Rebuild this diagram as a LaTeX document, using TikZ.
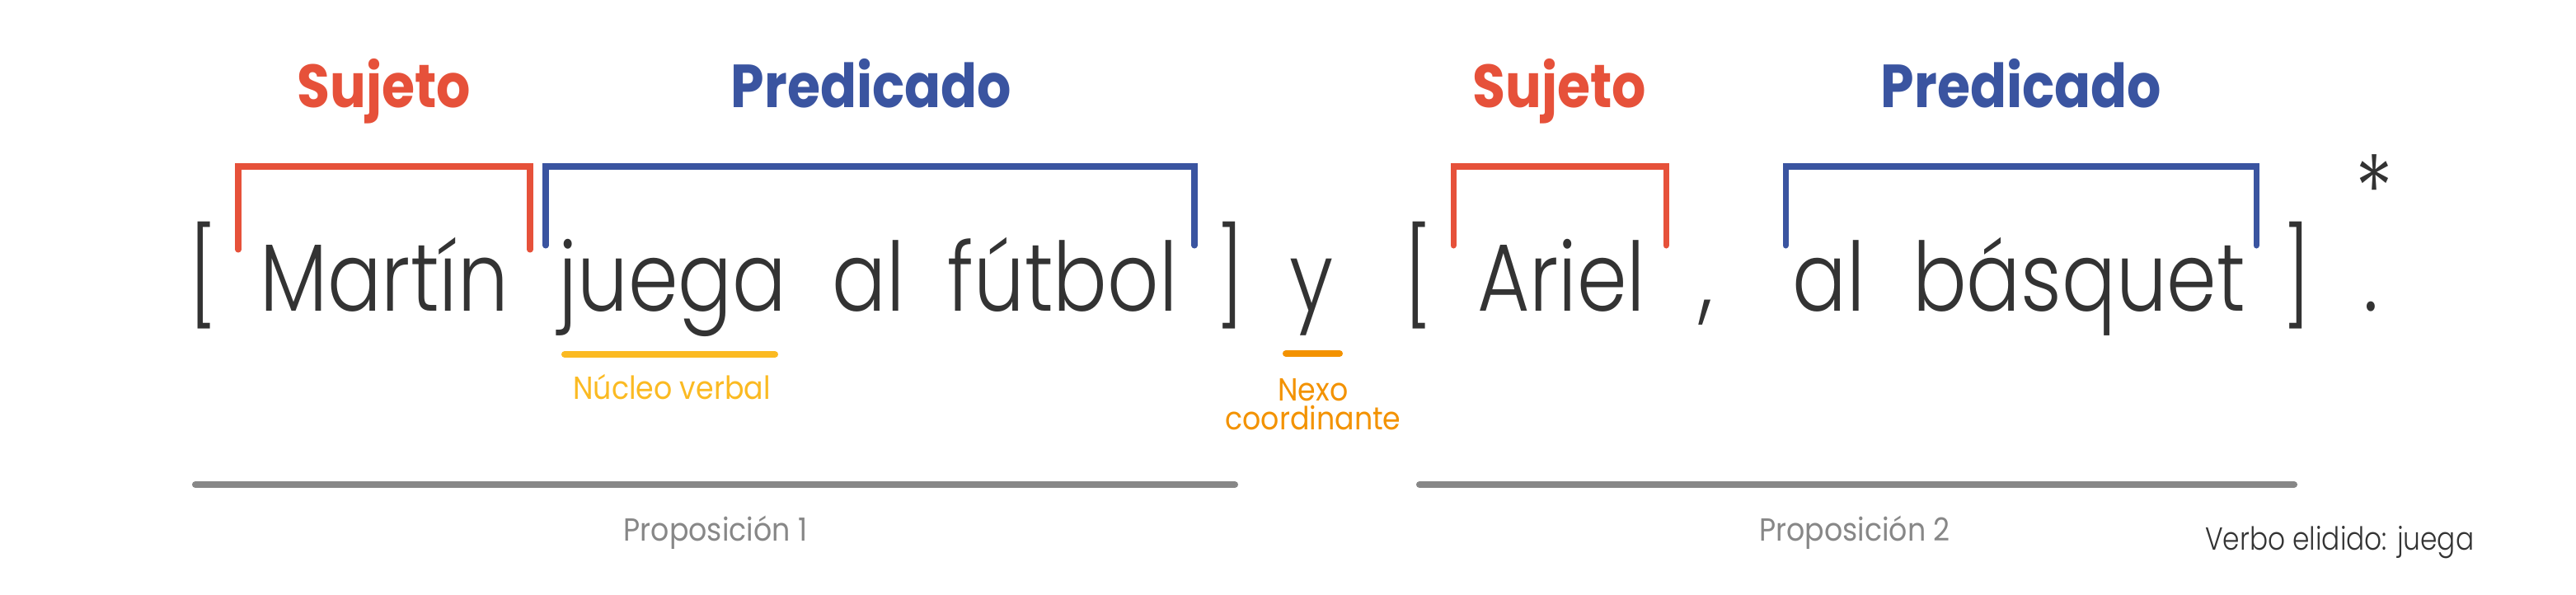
\documentclass[tikz,border=0pt]{standalone}
\usepackage{fontspec}
\setmainfont{Poppins}
\newfontfamily\wordfont{Poppins Light}[FakeStretch=0.84]
\newfontfamily\headfont{Poppins}[FakeStretch=0.88]
\newfontfamily\notefont{Poppins}[FakeStretch=0.9]
\newfontfamily\elidfont{Poppins Light}[FakeStretch=0.85]
\definecolor{ink}{HTML}{333333}
\definecolor{sujred}{HTML}{E6513A}
\definecolor{predblue}{HTML}{3A54A0}
\definecolor{nucyellow}{HTML}{FBBA22}
\definecolor{nexorange}{HTML}{F39200}
\definecolor{propgray}{HTML}{878787}
\begin{document}
\begin{tikzpicture}
[nodes={inner sep=0pt},
 word/.style={anchor=base, text=ink, font=\wordfont\fontsize{33}{33}\selectfont},
 head/.style={anchor=base, font=\headfont\bfseries\fontsize{21}{21}\selectfont},
 note/.style={anchor=base, font=\notefont\fontsize{11}{11}\selectfont},
 suj/.style={draw=sujred, line width=2pt, line cap=round},
 pred/.style={draw=predblue, line width=2pt, line cap=round},
 bar/.style={line width=2.3pt, line cap=round}]
\useasboundingbox (0,0) rectangle (31.25,7.22);

\node (lbA) at (2.46,3.44) [word] {[};
\node (Martin) at (4.66,3.44) [word] {Martín};
\node (juega) at (8.16,3.44) [word] {juega};
\node (alA) at (10.54,3.44) [word] {al};
\node (futbol) at (12.89,3.44) [word] {fútbol};
\node (rbA) at (14.92,3.44) [word] {]};
\node (y) at (15.91,3.44) [word] {y};
\node (lbB) at (17.20,3.44) [word] {[};
\node (Ariel) at (18.94,3.44) [word] {Ariel};
\node (comma) at (20.70,3.44) [word] {,};
\node (alB) at (22.19,3.44) [word] {al};
\node (basquet) at (25.22,3.44) [word] {básquet};
\node (rbB) at (27.86,3.44) [word] {]};
\node (dot) at (28.76,3.44) [word] {.};
\node (star) at (28.80,4.92) [word, anchor=center] {*};

\draw [suj] (2.89,4.19) |- (6.43,5.2) -- (6.43,4.19);
\draw [pred] (6.62,4.24) |- (14.49,5.2) -- (14.49,4.24);
\draw [suj] (17.63,4.24) |- (20.21,5.2) -- (20.21,4.24);
\draw [pred] (21.66,4.24) |- (27.37,5.2) -- (27.37,4.24);
\node (SujA) at (4.66,5.91) [head, text=sujred] {Sujeto};
\node (PredA) at (10.57,5.91) [head, text=predblue] {Predicado};
\node (SujB) at (18.92,5.91) [head, text=sujred] {Sujeto};
\node (PredB) at (24.52,5.91) [head, text=predblue] {Predicado};

\coordinate (nucL) at (6.85,2.92);
\coordinate (nucR) at (9.40,2.92);
\draw [bar, nucyellow] (nucL) -- (nucR);
\node (nucleo) at (8.15,2.37) [note, text=nucyellow] {Núcleo verbal};
\coordinate (nexL) at (15.60,2.93);
\coordinate (nexR) at (16.25,2.93);
\draw [bar, nexorange] (nexL) -- (nexR);
\node (nexo) at (15.93,2.63) [note, anchor=north, align=center, text=nexorange] {Nexo\\[-1pt]coordinante};

\coordinate (propAL) at (2.37,1.34);
\coordinate (propAR) at (14.98,1.34);
\coordinate (propBL) at (17.22,1.34);
\coordinate (propBR) at (27.83,1.34);
\draw [bar, propgray] (propAL) -- (propAR);
\draw [bar, propgray] (propBL) -- (propBR);
\node (propA) at (8.68,0.65) [note, text=propgray] {Proposición 1};
\node (propB) at (22.50,0.65) [note, text=propgray] {Proposición 2};
\node (elidido) at (30.02,0.54) [note, anchor=base east, text=ink, font=\elidfont\fontsize{11}{11}\selectfont] {Verbo elidido: juega};
\end{tikzpicture}
\end{document}
